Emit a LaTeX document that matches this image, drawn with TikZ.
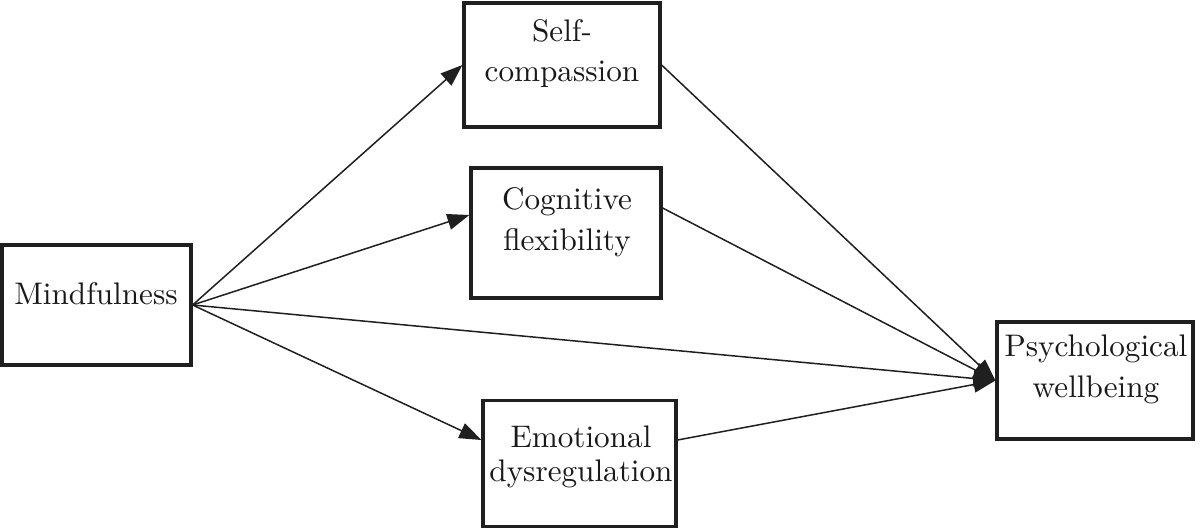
\documentclass[tikz,border=0pt]{standalone}
\usepackage{graphicx}
\usetikzlibrary{arrows.meta}
\newcommand{\bigtxt}[1]{\scalebox{1.5}{\fontsize{10.4pt}{12pt}\selectfont #1}}
\begin{document}
\begin{tikzpicture}[x=0.5pt,y=-0.5pt,
  box/.style={draw=black!88, line width=1.6pt, inner sep=0pt, fill=white},
  lbl/.style={anchor=base, inner sep=0pt, text=black!90},
  arr/.style={draw=black!88, line width=0.75pt, -{Triangle[length=11pt,width=8pt]}}
]
\useasboundingbox (0,0) rectangle (1200,529);
\node[box, minimum width=94.5pt, minimum height=60pt] (M) at (96.5,305) {};
\node[box, minimum width=98pt, minimum height=62pt] (SC) at (562,65) {};
\node[box, minimum width=95pt, minimum height=65pt] (CF) at (566,233) {};
\node[box, minimum width=96.5pt, minimum height=63pt] (ED) at (579.5,463.5) {};
\node[box, minimum width=98pt, minimum height=58.5pt] (PW) at (1095,380.5) {};

\node[lbl] (tM) at (96,305) {\bigtxt{Mindfulness}};
\node[lbl] (tSC1) at (562,42) {\bigtxt{Self-}};
\node[lbl] (tSC2) at (562,82) {\bigtxt{compassion}};
\node[lbl] (tCF1) at (567,210) {\bigtxt{Cognitive}};
\node[lbl] (tCF2) at (567,251) {\bigtxt{flexibility}};
\node[lbl] (tED1) at (581,447) {\bigtxt{Emotional}};
\node[lbl] (tED2) at (581,481) {\bigtxt{dysregulation}};
\node[lbl] (tPW1) at (1096,357) {\bigtxt{Psychological}};
\node[lbl] (tPW2) at (1096,398) {\bigtxt{wellbeing}};

\draw[arr] (M.east) -- (SC.west);
\draw[arr] (M.east) -- ([yshift=9pt]CF.west);
\draw[arr] (M.east) -- ([yshift=11.75pt]ED.west);
\draw[arr] (M.east) -- (PW.west);
\draw[arr] (SC.east) -- (PW.west);
\draw[arr] ([yshift=12.5pt]CF.east) -- (PW.west);
\draw[arr] ([yshift=11.75pt]ED.east) -- (PW.west);
\end{tikzpicture}
\end{document}
